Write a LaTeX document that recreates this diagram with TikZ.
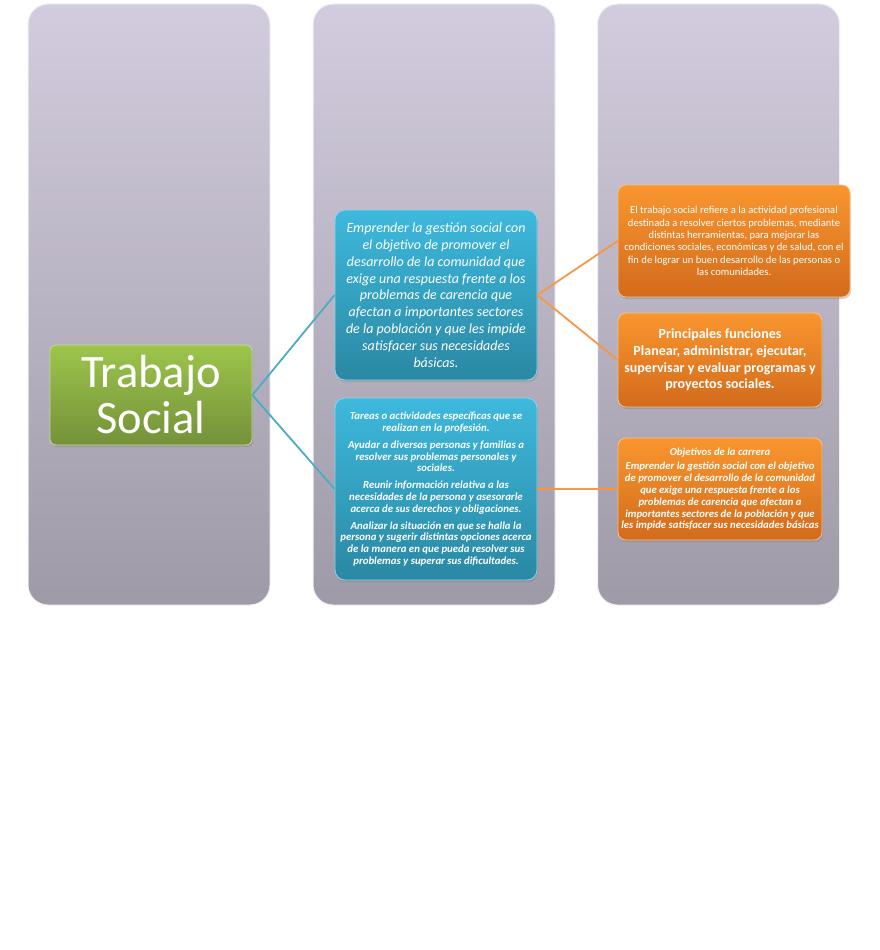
\documentclass[tikz,border=0pt]{standalone}
\usepackage{fontspec}
\setmainfont{Carlito}
\usetikzlibrary{shadows}

\definecolor{colTop}{HTML}{D2CCDE}
\definecolor{colBot}{HTML}{9F9AA7}
\definecolor{greenTop}{HTML}{9DC54B}
\definecolor{greenBot}{HTML}{74913A}
\definecolor{blueTop}{HTML}{3EB9DD}
\definecolor{blueBot}{HTML}{2A88A3}
\definecolor{orangeTop}{HTML}{F9962F}
\definecolor{orangeBot}{HTML}{D26B1C}
\definecolor{tealLine}{HTML}{4BACC6}
\definecolor{orangeLine}{HTML}{F79646}

\begin{document}
\begin{tikzpicture}[x=1pt,y=-1pt]
\tikzstyle{column} = [rectangle, rounded corners=20pt, top color=colTop,
bottom color=colBot, draw=white!70!colTop, line width=1pt,
minimum width=242pt, minimum height=601pt]
\tikzstyle{root} = [rectangle, rounded corners=6pt, top color=greenTop,
bottom color=greenBot, draw=greenTop!60!white, thick, text=white,
minimum width=202pt, minimum height=100pt, align=center,
drop shadow={shadow xshift=1pt, shadow yshift=-2pt, opacity=.35},
font=\fontsize{46.5}{46}\selectfont]
\tikzstyle{task} = [rectangle, rounded corners=10pt, top color=blueTop,
bottom color=blueBot, draw=blueTop!60!white, thick, text=white,
minimum width=202pt, align=center,
drop shadow={shadow xshift=1pt, shadow yshift=-2pt, opacity=.35}]
\tikzstyle{detail} = [rectangle, rounded corners=8pt, top color=orangeTop,
bottom color=orangeBot, draw=orangeTop!60!white, thick, text=white,
align=center,
drop shadow={shadow xshift=1pt, shadow yshift=-2pt, opacity=.35}]
\tikzstyle{line} = [draw, line width=1.8pt];

\useasboundingbox (0,0) rectangle (880,950);

% columns
\node [column] (colA) at (149,304.5) {};
\node [column] (colB) at (434,304.5) {};
\node [column] (colC) at (718.5,304.5) {};

% level 1
\node [root] (social) at (151,395) {Trabajo\\Social};

% level 2
\node [task, minimum height=170pt, font=\itshape\fontsize{14}{16.8}\selectfont]
(emprender) at (436,295) {Emprender la gestión social con\\
el objetivo de promover el\\
desarrollo de la comunidad que\\
exige una respuesta frente a los\\
problemas de carencia que\\
afectan a importantes sectores\\
de la población y que les impide\\
satisfacer sus necesidades\\
básicas.};
\node [task, minimum height=182pt,
font=\bfseries\itshape\fontsize{10.8}{11.6}\selectfont]
(tareas) at (436,489) {Tareas o actividades específicas que se\\
realizan en la profesión.\\[5.5pt]
Ayudar a diversas personas y familias a\\
resolver sus problemas personales y\\
sociales.\\[5.5pt]
Reunir información relativa a las\\
necesidades de la persona y asesorarle\\
acerca de sus derechos y obligaciones.\\[5.5pt]
Analizar la situación en que se halla la\\
persona y sugerir distintas opciones acerca\\
de la manera en que pueda resolver sus\\
problemas y superar sus dificultades.};

% level 3
\node [detail, minimum width=232pt, minimum height=112pt,
font=\fontsize{10.6}{12.4}\selectfont]
(definicion) at (734,241) {El trabajo social refiere a la actividad profesional\\
destinada a resolver ciertos problemas, mediante\\
distintas herramientas, para mejorar las\\
condiciones sociales, económicas y de salud, con el\\
fin de lograr un buen desarrollo de las personas o\\
las comunidades.};
\node [detail, minimum width=204pt, minimum height=94pt,
font=\bfseries\fontsize{14}{16.6}\selectfont]
(funciones) at (720,360) {Principales funciones\\
Planear, administrar, ejecutar,\\
supervisar y evaluar programas y\\
proyectos sociales.};
\node [detail, minimum width=204pt, minimum height=102pt,
font=\itshape\bfseries\fontsize{10.7}{11.8}\selectfont]
(objetivos) at (720,489) {Objetivos de la carrera\\[3pt]
Emprender la gestión social con el objetivo\\
de promover el desarrollo de la comunidad\\
que exige una respuesta frente a los\\
problemas de carencia que afectan a\\
importantes sectores de la población y que\\
les impide satisfacer sus necesidades básicas};

\tikzstyle{every path}=[line]
\path [tealLine] (social.east) -- (emprender.west);
\path [tealLine] (social.east) -- (tareas.west);
\path [orangeLine] (emprender.east) -- (definicion.west);
\path [orangeLine] (emprender.east) -- (funciones.west);
\path [orangeLine] (tareas.east) -- (objetivos.west);

\end{tikzpicture}
\end{document}
